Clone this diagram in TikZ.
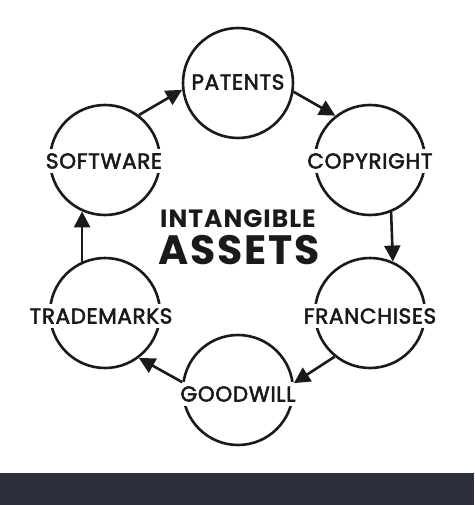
\documentclass[tikz,border=0pt]{standalone}
\usepackage{fontspec}
\setmainfont{Poppins}
\newfontfamily\labfont[FakeBold=2.5,LetterSpace=3]{Poppins}
\newfontfamily\titfont[LetterSpace=4]{Poppins}
\usetikzlibrary{arrows.meta}
\definecolor{ink}{HTML}{1A1A1A}
\definecolor{barc}{HTML}{2C303A}
\tikzset{
  item/.style={circle,draw=ink,line width=2.6pt,minimum size=110pt,inner sep=0pt},
  lab/.style={fill=white,inner xsep=1pt,inner ysep=4pt,text=ink,font=\labfont\fontsize{21.5}{23}\selectfont},
  flow/.style={draw=ink,line width=2.6pt,-{Triangle[length=16pt,width=16pt]}}
}
\begin{document}
\begin{tikzpicture}[x=1pt,y=-1pt]
\useasboundingbox (0,0) rectangle (474,505);
\fill[white] (0,0) rectangle (474,505);
\fill[barc] (0,473) rectangle (474,505);
\node[item] (pat) at (238,83) {};
\node[item] (cop) at (370,160) {};
\node[item] (fra) at (370,313) {};
\node[item] (goo) at (238,390) {};
\node[item] (tra) at (105,313) {};
\node[item] (sof) at (105,160) {};
\node[lab] (tpat) at (238,82) {PATENTS};
\node[lab] (tcop) at (370,161) {COPYRIGHT};
\node[lab] (tfra) at (370,316) {FRANCHISES};
\node[lab] (tgoo) at (238,394) {GOODWILL};
\node[lab] (ttra) at (101,316) {TRADEMARKS};
\node[lab] (tsof) at (104,161) {SOFTWARE};
\node[text=ink,font=\titfont\bfseries\fontsize{25}{27}\selectfont] (t1) at (238,219) {INTANGIBLE};
\node[text=ink,font=\titfont\bfseries\fontsize{41}{43}\selectfont] (t2) at (239,250) {ASSETS};
\draw[flow] (sof.53) -- (pat.187);
\draw[flow] (pat.-9) -- (cop.128);
\draw[flow] (cop.-68) -- (fra.66);
\draw[flow] (fra.231) -- (goo.7);
\draw[flow] (goo.172) -- (tra.-53);
\draw[flow] (tra.114) -- (sof.246);
\end{tikzpicture}
\end{document}
